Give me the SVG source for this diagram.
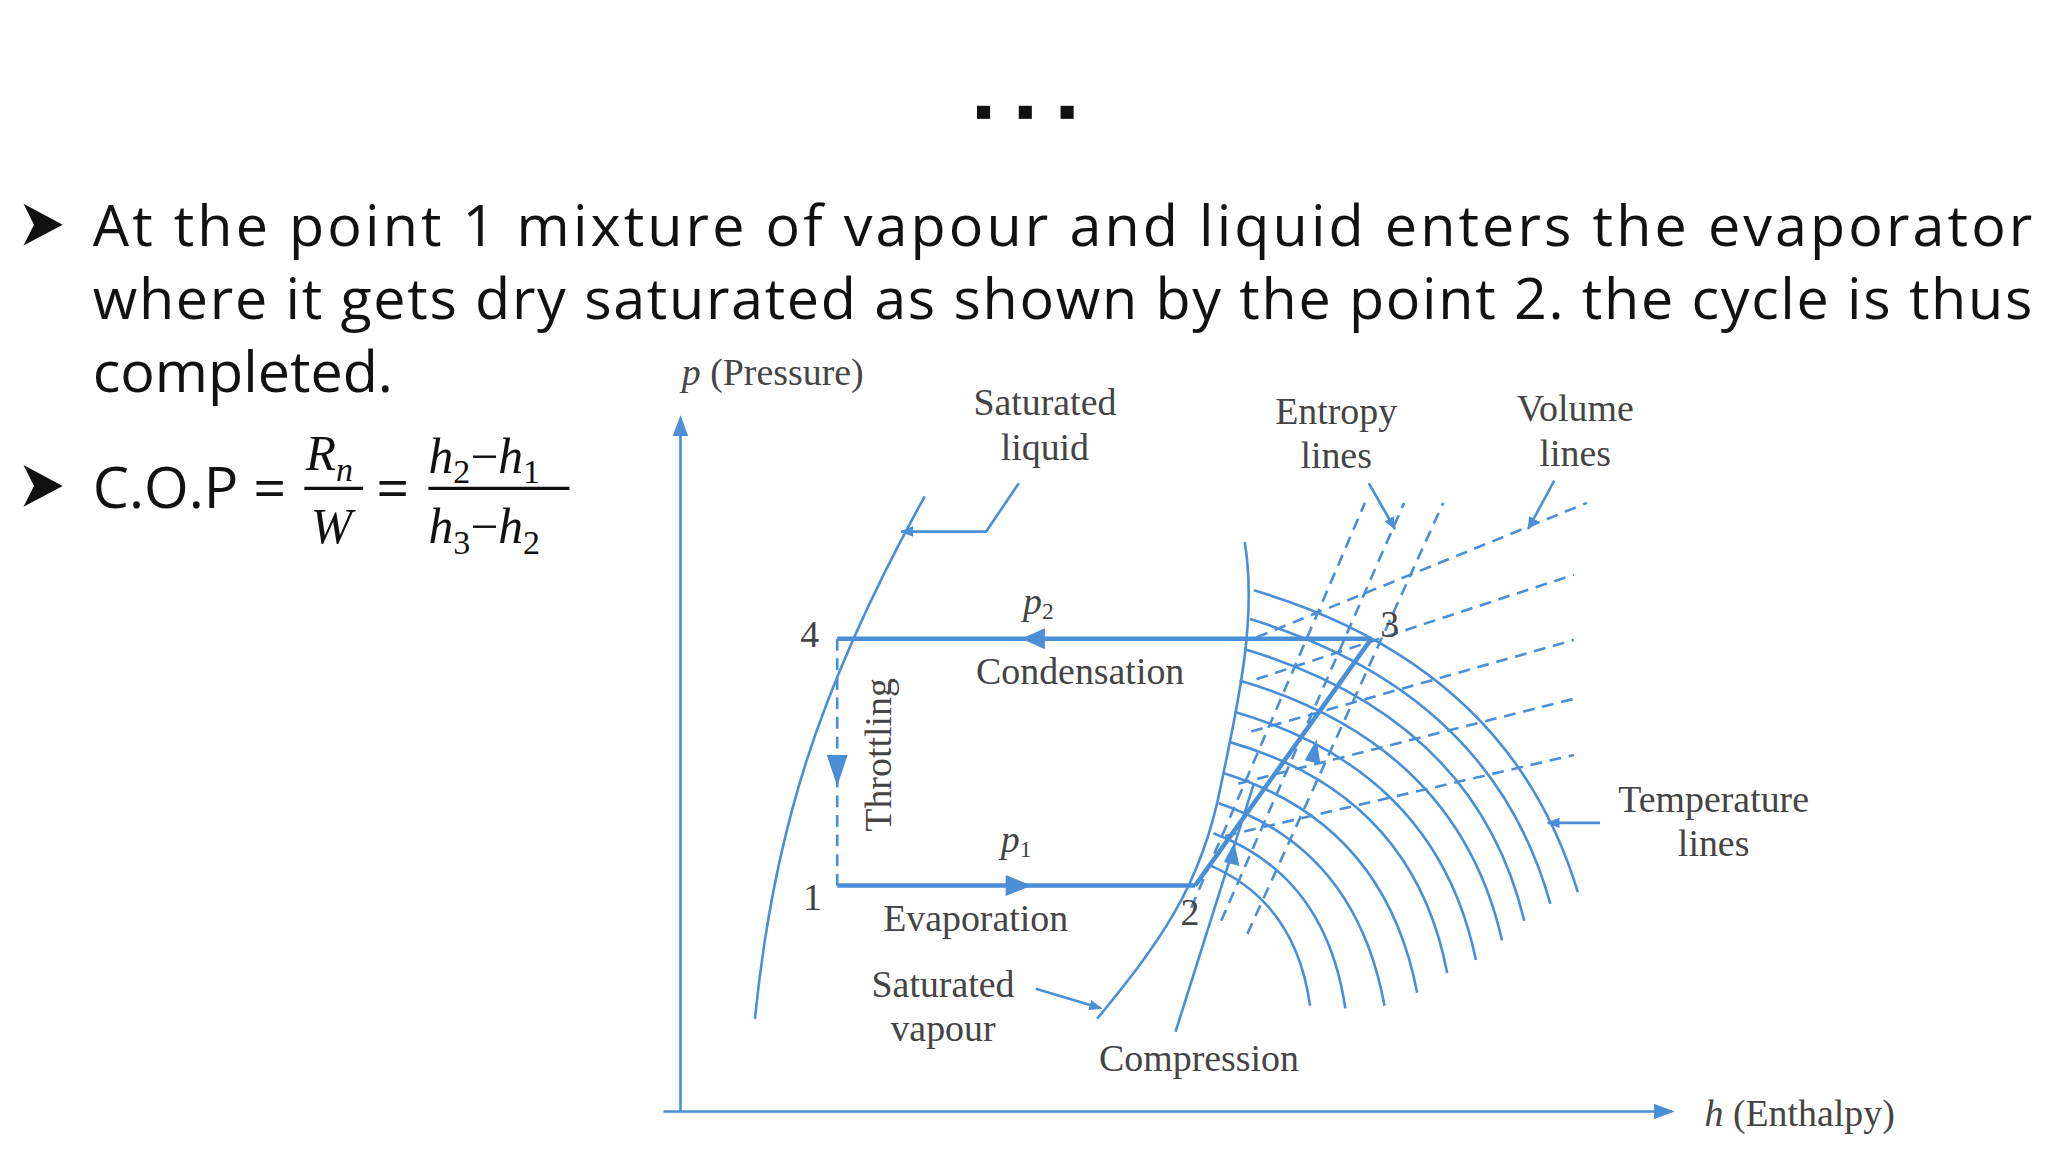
<svg xmlns="http://www.w3.org/2000/svg" width="2048" height="1152" viewBox="0 0 2048 1152">
<defs>
<style>
.t{font-family:"Open Sans","Liberation Sans",sans-serif;font-size:44px;fill:#111}
.s{font-family:"Liberation Serif",serif;font-size:29px;fill:#444}
.m{font-family:"Liberation Serif",serif;font-style:italic;font-size:38px;fill:#111}
.sub{font-style:normal;font-size:26px}
.b{stroke:#4a8fd6;stroke-width:2;fill:none}
.bt{stroke:#4a8fd6;stroke-width:3.5;fill:none}
.d{stroke:#4a8fd6;stroke-width:2;fill:none;stroke-dasharray:9 6}
</style>
<marker id="ah" markerWidth="10" markerHeight="8" refX="9" refY="4" orient="auto" markerUnits="userSpaceOnUse"><path d="M0,0 L10,4 L0,8 z" fill="#4a8fd6"/></marker>
<marker id="big" markerWidth="16" markerHeight="12" refX="14" refY="6" orient="auto" markerUnits="userSpaceOnUse"><path d="M0,0 L16,6 L0,12 z" fill="#4a8fd6"/></marker>
</defs>
<rect width="2048" height="1152" fill="#fff"/>
<g transform="scale(1.30612)">
<g id="header"><rect x="748" y="81" width="10" height="10" fill="#111"/><rect x="780" y="81" width="10" height="10" fill="#111"/><rect x="812" y="81" width="10" height="10" fill="#111"/></g>
<g id="text">
<path d="M18,156 L48,172 L18,188 L26,172 z" fill="#111"/>
<text class="t" x="71" y="188" textLength="1485" lengthAdjust="spacing">At the point 1 mixture of vapour and liquid enters the evaporator</text>
<text class="t" x="71" y="244" textLength="1485" lengthAdjust="spacing">where it gets dry saturated as shown by the point 2. the cycle is thus</text>
<text class="t" x="71" y="300">completed.</text>
<path d="M18,356 L48,372 L18,388 L26,372 z" fill="#111"/>
<text class="t" x="71" y="389">C.O.P =</text>
<text class="m" x="234" y="360">R<tspan font-size="26" dy="8">n</tspan></text>
<line x1="233" y1="374" x2="278" y2="374" stroke="#111" stroke-width="2.5"/>
<text class="m" x="238" y="416">W</text>
<text class="t" x="288" y="389">=</text>
<text class="m" x="328" y="362">h<tspan class="sub" dy="8">2</tspan><tspan dy="-8" font-style="normal">−</tspan>h<tspan class="sub" dy="8">1</tspan></text>
<line x1="328" y1="374" x2="436" y2="374" stroke="#111" stroke-width="2.5"/>
<text class="m" x="328" y="416">h<tspan class="sub" dy="8">3</tspan><tspan dy="-8" font-style="normal">−</tspan>h<tspan class="sub" dy="8">2</tspan></text>
</g>
<g id="connectors">
<line class="b" x1="521" y1="851" x2="521" y2="320" marker-end="url(#big)"/>
<line class="b" x1="508" y1="851" x2="1280" y2="851" marker-end="url(#big)"/>
<path class="b" d="M578,780 C592,640 625,530 708,380"/>
<path class="b" d="M780,370 L755,407 L690,407" marker-end="url(#ah)"/>
<path class="b" d="M840,780 C885,725 920,680 935,600 C950,530 962,470 953,415"/>
<path class="b" d="M793,757 L843,772" marker-end="url(#ah)"/>
<line class="bt" x1="1050" y1="489" x2="641" y2="489"/>
<path d="M782,489 L800,481 L800,497 z" fill="#4a8fd6"/>
<line class="d" x1="641" y1="489" x2="641" y2="678" stroke-width="3.5" stroke-dasharray="14 6"/>
<path d="M641,602 L633,578 L649,578 z" fill="#4a8fd6"/>
<line class="bt" x1="641" y1="678" x2="915" y2="678"/>
<path d="M790,678 L770,670 L770,686 z" fill="#4a8fd6"/>
<line class="bt" x1="915" y1="678" x2="1050" y2="489"/>
<path d="M945,645 L937,660 L949,663 z" fill="#4a8fd6"/>
<path d="M1008,566 L999,582 L1011,585 z" fill="#4a8fd6"/>
<line class="b" x1="900" y1="790" x2="960" y2="600"/>
<g id="temp">
<path class="b" d="M925,662 Q992,690 1003,770"/>
<path class="b" d="M929,638 Q1015,670 1030,772"/>
<path class="b" d="M933,615 Q1038,650 1060,770"/>
<path class="b" d="M937,592 Q1060,630 1085,760"/>
<path class="b" d="M941,568 Q1082,608 1108,745"/>
<path class="b" d="M945,545 Q1100,590 1130,735"/>
<path class="b" d="M949,521 Q1116,570 1150,720"/>
<path class="b" d="M953,497 Q1130,550 1167,705"/>
<path class="b" d="M957,474 Q1142,530 1187,692"/>
<path class="b" d="M960,452 Q1156,510 1208,683"/>
</g>
<line class="d" x1="912" y1="695" x2="1045" y2="385"/>
<line class="d" x1="935" y1="705" x2="1075" y2="385"/>
<line class="d" x1="955" y1="715" x2="1105" y2="385"/>
<line class="d" x1="962" y1="488" x2="1215" y2="385"/>
<line class="d" x1="962" y1="520" x2="1205" y2="440"/>
<line class="d" x1="958" y1="560" x2="1205" y2="490"/>
<line class="d" x1="948" y1="600" x2="1205" y2="535"/>
<line class="d" x1="938" y1="640" x2="1205" y2="578"/>
<line class="b" x1="1048" y1="370" x2="1068" y2="405" marker-end="url(#ah)"/>
<line class="b" x1="1190" y1="368" x2="1170" y2="405" marker-end="url(#ah)"/>
<line class="b" x1="1225" y1="630" x2="1185" y2="630" marker-end="url(#ah)"/>
</g>
<g id="labels">
<text class="s" x="522" y="295"><tspan font-style="italic">p</tspan> (Pressure)</text>
<text class="s" x="1305" y="862"><tspan font-style="italic">h</tspan> (Enthalpy)</text>
<text class="s" x="800" y="318" text-anchor="middle">Saturated</text>
<text class="s" x="800" y="352" text-anchor="middle">liquid</text>
<text class="s" x="1023" y="325" text-anchor="middle">Entropy</text>
<text class="s" x="1023" y="358" text-anchor="middle">lines</text>
<text class="s" x="1206" y="322" text-anchor="middle">Volume</text>
<text class="s" x="1206" y="357" text-anchor="middle">lines</text>
<text class="s" x="1312" y="622" text-anchor="middle">Temperature</text>
<text class="s" x="1312" y="655" text-anchor="middle">lines</text>
<text class="s" x="795" y="470" text-anchor="middle"><tspan font-style="italic">p</tspan><tspan font-size="18" dy="4">2</tspan></text>
<text class="s" x="778" y="652" text-anchor="middle"><tspan font-style="italic">p</tspan><tspan font-size="18" dy="4">1</tspan></text>
<text class="s" x="827" y="524" text-anchor="middle">Condensation</text>
<text class="s" x="747" y="713" text-anchor="middle">Evaporation</text>
<text class="s" x="722" y="763" text-anchor="middle">Saturated</text>
<text class="s" x="722" y="797" text-anchor="middle">vapour</text>
<text class="s" x="918" y="820" text-anchor="middle">Compression</text>
<text class="s" x="620" y="495" text-anchor="middle">4</text>
<text class="s" x="622" y="697" text-anchor="middle">1</text>
<text class="s" x="911" y="708" text-anchor="middle">2</text>
<text class="s" x="1064" y="488" text-anchor="middle">3</text>
<text class="s" x="0" y="0" text-anchor="middle" transform="translate(682,578) rotate(-90)">Throttling</text>
</g>
</g>
</svg>
